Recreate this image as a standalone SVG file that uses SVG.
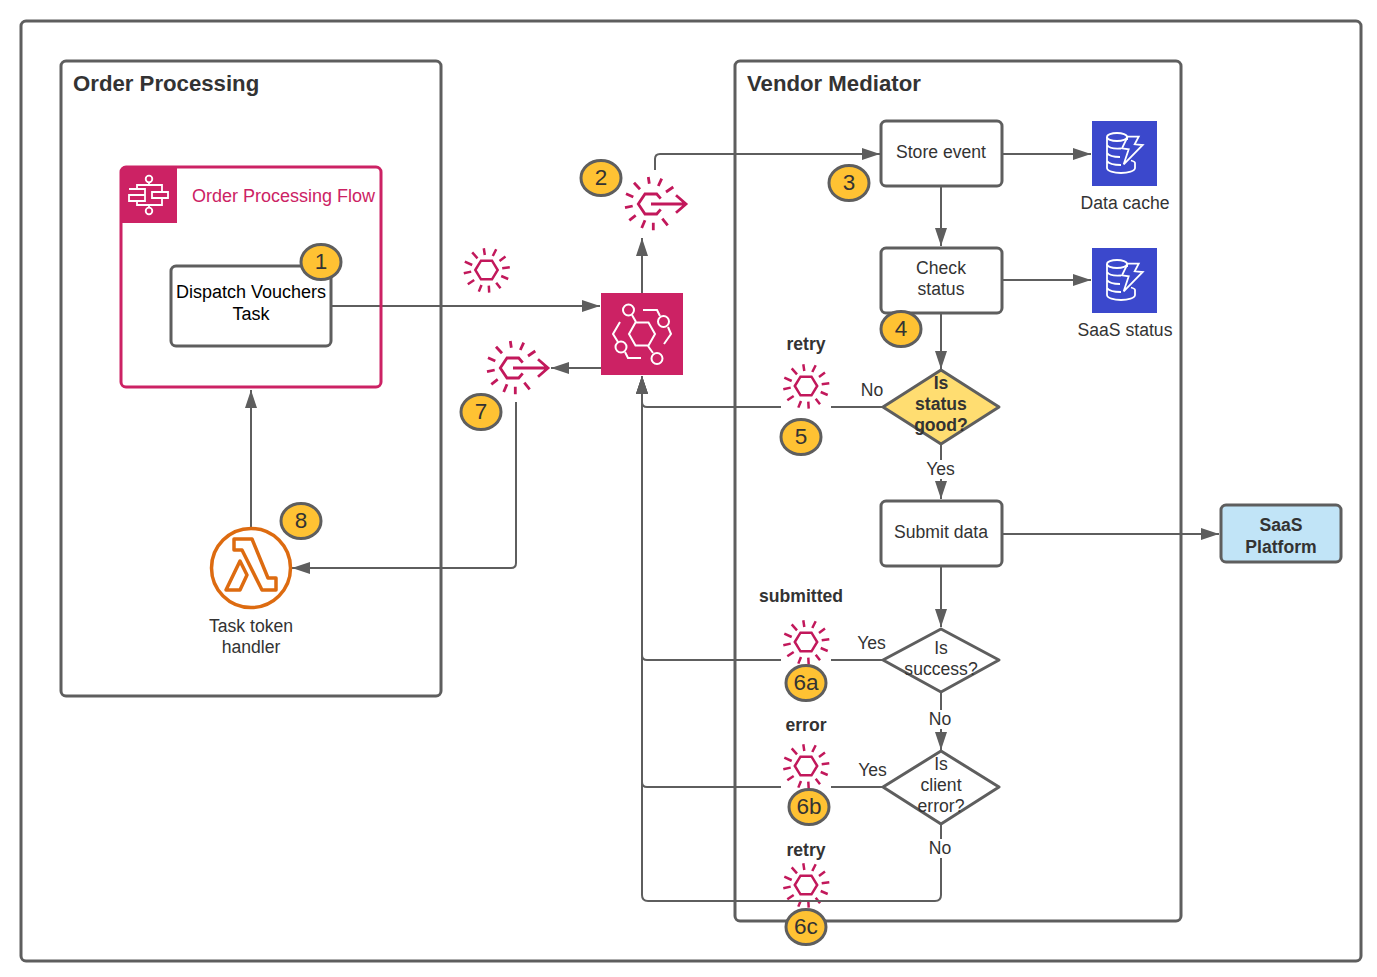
<svg xmlns="http://www.w3.org/2000/svg" width="1377" height="977" viewBox="0 0 1377 977">
<style>
text{font-family:"Liberation Sans",Arial,sans-serif;fill:#333;text-anchor:middle}
.box{fill:none;stroke:#5e5e5e;stroke-width:3}
.node{fill:#fff;stroke:#5e5e5e;stroke-width:3}
.title{font-size:22.2px;font-weight:bold;text-anchor:start}
.lbl{font-size:17.6px}
.b{font-weight:bold}
.num{font-size:22.5px}
.badge{fill:#ffc233;stroke:#5e5e5e;stroke-width:3}
.conn{fill:none;stroke:#5e5e5e;stroke-width:2}
.ev{fill:none;stroke:#c2185b;stroke-width:2.5}
.ic{fill:none;stroke:#fff;stroke-width:1.8}
</style>
<defs>
<marker id="a" markerUnits="userSpaceOnUse" markerWidth="18" markerHeight="12" refX="18" refY="6" orient="auto" viewBox="0 0 18 12"><path d="M0 0L18 6L0 12z" fill="#5e5e5e"/></marker>
<g id="rays"><path d="M-2.700-21.700L-1.700-15M9.700-20.700L6.300-14M19-13.400L13-9M-14.300-17.700L-9-11.700M-21.700-8.400L-14.300-5M-22.700 3.300L-15.300 1.600M-18.700 14.300L-12.300 10M-7.700 21.600L-5 15M2.700 22.600L2.300 15.600M14 18.300L9.700 12.700M21.700 9L14.700 6M23.300-2.700L15.700-1.700" class="ev"/></g>
<g id="event"><rect x="-25" y="-25" width="50" height="50" fill="#fff"/><use href="#rays"/><path d="M-11.200 0L-5.500-9.300H5.500L11.200 0L5.500 9.300H-5.500z" class="ev"/></g>
<g id="evout"><path d="M-1.700-27L-.7-20.300M11.700-25.300L8.300-18M23.300-17L16-12M-16-21.300L-10-14.700M-24-10.300L-16.700-7M-25 3.700L-17.300 2M-20.700 16.300L-14.300 11.300M-8.300 24L-5 16.300M3.300 26.300V18.700M17.700 21.300L12.300 14.700" class="ev" style="stroke-width:2.800"/><path d="M10.700-5.300L6.700-10H-5L-11.700 0L-5 10H6.700L10.700 5.300" class="ev" style="stroke-width:2.800"/><path d="M1 0H36M26-8.700L36 0L26 8.700" class="ev" style="stroke-width:2.800"/></g>
<g id="ddb"><rect width="65" height="65" fill="#3b48cc"/><g class="ic"><ellipse cx="25" cy="16" rx="10" ry="4"/><path d="M15 16V47C15 50 22 52 29 52C36 52 43 50 43 47V42C43 41 41 40 39 39.500M15 24C17 27 23 28 29 27.500M15 32C17 35 23 36 28 36M15 40C17 43 24 44 29 44M35 16V19"/><path d="M35.700 15.700H46.700L42.700 23.300L50.700 24L31.700 43.300L36.700 28.300L30 27.300z"/></g></g>
</defs>

<rect id="outer" class="box" x="21" y="21" width="1340" height="940" rx="5"/>
<g id="order-processing"><rect class="box" x="61" y="61" width="380" height="635" rx="5"/><text class="title" x="73" y="91">Order Processing</text></g>
<g id="vendor-mediator"><rect class="box" x="735" y="61" width="446" height="860" rx="5"/><text class="title" x="747" y="91">Vendor Mediator</text></g>

<g id="connectors">
<path class="conn" marker-end="url(#a)" d="M331 306H600"/>
<path class="conn" marker-end="url(#a)" d="M642 293V238"/>
<path class="conn" marker-end="url(#a)" d="M655 170V159Q655 154 660 154H880"/>
<path class="conn" marker-end="url(#a)" d="M1002 154H1091"/>
<path class="conn" marker-end="url(#a)" d="M941 186V246"/>
<path class="conn" marker-end="url(#a)" d="M1002 280H1091"/>
<path class="conn" marker-end="url(#a)" d="M941 313V369"/>
<path class="conn" marker-end="url(#a)" d="M883 407H647Q642 407 642 402V376"/>
<path class="conn" marker-end="url(#a)" d="M941 444V499"/>
<path class="conn" marker-end="url(#a)" d="M1002 534H1219"/>
<path class="conn" marker-end="url(#a)" d="M941 566V627"/>
<path class="conn" marker-end="url(#a)" d="M883 660H647Q642 660 642 655V376"/>
<path class="conn" marker-end="url(#a)" d="M941 692V750"/>
<path class="conn" marker-end="url(#a)" d="M883 787H647Q642 787 642 782V376"/>
<path class="conn" marker-end="url(#a)" d="M941 824V895Q941 901 935 901H648Q642 901 642 895V376"/>
<path class="conn" marker-end="url(#a)" d="M601 368H551"/>
<path class="conn" marker-end="url(#a)" d="M516 402V563Q516 568 511 568H292"/>
<path class="conn" marker-end="url(#a)" d="M251 528V390"/>
</g>

<g id="flow"><rect x="121" y="167" width="260" height="220" rx="5" fill="none" stroke="#cc2264" stroke-width="3"/><path d="M121 223V172Q121 167 126 167H177V223z" fill="#cc2264"/>
<g class="ic"><circle cx="149" cy="179" r="3.300"/><circle cx="149" cy="211" r="3.300"/><path d="M149 182.500V185M149 205V207.500M137 189V185H162V192M137 201V205H162V198M129 189H145V195H129V201H145V195M152 192H168V198H152z"/></g>
<text x="283.500" y="201.500" font-size="18" style="fill:#cc2264">Order Processing Flow</text></g>
<g id="task1"><rect class="node" x="171" y="266" width="160" height="80" rx="5"/><text x="251" y="298" font-size="18" style="fill:#000">Dispatch Vouchers</text><text x="251" y="320" font-size="18" style="fill:#000">Task</text></g>

<g id="lambda"><circle cx="251" cy="568" r="39.500" fill="#fff" stroke="#dd6b10" stroke-width="3.500"/><g fill="none" stroke="#dd6b10" stroke-width="3.500" stroke-linejoin="round"><path d="M234 539H252L268 578H276V590H262L242 550H234z"/><path d="M240 561L247 575L240 590H226z"/></g><text class="lbl" x="251" y="632">Task token</text><text class="lbl" x="251" y="653">handler</text></g>

<g id="eventbridge"><rect x="601" y="293" width="82" height="82" fill="#cc2264"/><g class="ic" style="stroke-width:2"><path d="M629 334L635.500 322.500H648.500L655 334L648.500 345.500H635.500z"/><circle cx="628.500" cy="310" r="5.500"/><circle cx="663.500" cy="321.500" r="5.500"/><circle cx="621" cy="347" r="5.500"/><circle cx="657" cy="358.500" r="5.500"/><path d="M632 315L636 322M648 346L653 353M643 310H657L660 316M668 327L671 334L664 344M620 322L613 334L618 342M625 352L628 358H641"/></g></g>

<use id="event-top" href="#event" x="486.500" y="270"/>
<use id="ev-out-2" href="#evout" x="650" y="204"/>
<use id="ev-out-7" href="#evout" x="512" y="368"/>

<g id="store-event"><rect class="node" x="881" y="121" width="121" height="65" rx="5"/><text class="lbl" x="941" y="158">Store event</text></g>
<g id="data-cache"><use href="#ddb" x="1092" y="121"/><text class="lbl" x="1125" y="209">Data cache</text></g>
<g id="check-status"><rect class="node" x="881" y="248" width="121" height="65" rx="5"/><text class="lbl" x="941" y="274">Check</text><text class="lbl" x="941" y="295">status</text></g>
<g id="saas-status"><use href="#ddb" x="1092" y="248"/><text class="lbl" x="1125" y="336">SaaS status</text></g>

<g id="d1"><path d="M883 407L941 370L999 407L941 444z" fill="#ffdd71" stroke="#5e5e5e" stroke-width="3" stroke-linejoin="round"/><text class="lbl b" x="941" y="389">Is</text><text class="lbl b" x="941" y="410">status</text><text class="lbl b" x="941" y="431">good?</text></g>
<g id="submit"><rect class="node" x="881" y="501" width="121" height="65" rx="5"/><text class="lbl" x="941" y="538">Submit data</text></g>
<g id="saas-platform"><rect x="1221" y="505" width="120" height="57" rx="5" fill="#c1e4f7" stroke="#5e5e5e" stroke-width="3"/><text class="lbl b" x="1281" y="531">SaaS</text><text class="lbl b" x="1281" y="553">Platform</text></g>
<g id="d2"><path d="M883 660L941 629L999 660L941 692z" fill="#fff" stroke="#5e5e5e" stroke-width="3" stroke-linejoin="round"/><text class="lbl" x="941" y="654">Is</text><text class="lbl" x="941" y="675">success?</text></g>
<g id="d3"><path d="M883 787L941 751L999 787L941 824z" fill="#fff" stroke="#5e5e5e" stroke-width="3" stroke-linejoin="round"/><text class="lbl" x="941" y="770">Is</text><text class="lbl" x="941" y="791">client</text><text class="lbl" x="941" y="812">error?</text></g>

<use id="ev5" href="#event" x="806" y="386"/>
<use id="ev6a" href="#event" x="806" y="642"/>
<use id="ev6b" href="#event" x="806" y="766"/>
<g id="ev6c"><use href="#rays" x="806" y="885"/><path d="M794.800 885L800.500 875.700H811.500L817.200 885L811.500 894.300H800.500z" class="ev"/></g>
<path class="conn" d="M760 901H850"/>

<g id="labels">
<text class="lbl b" x="806" y="350">retry</text>
<text class="lbl" x="872" y="396">No</text>
<rect x="925" y="460" width="32" height="19" fill="#fff"/><text class="lbl" x="940.500" y="475">Yes</text>
<text class="lbl b" x="801" y="602">submitted</text>
<text class="lbl" x="871.500" y="649">Yes</text>
<rect x="925" y="710" width="32" height="19" fill="#fff"/><text class="lbl" x="940" y="725">No</text>
<text class="lbl b" x="806" y="731">error</text>
<text class="lbl" x="872.500" y="776">Yes</text>
<rect x="925" y="839" width="32" height="19" fill="#fff"/><text class="lbl" x="940" y="854">No</text>
<text class="lbl b" x="806" y="856">retry</text>
</g>

<g id="badges">
<g id="b1"><ellipse class="badge" cx="321" cy="262" rx="20" ry="17.500"/><text class="num" x="321" y="269">1</text></g>
<g id="b2"><ellipse class="badge" cx="601" cy="178" rx="20" ry="17.500"/><text class="num" x="601" y="185">2</text></g>
<g id="b3"><ellipse class="badge" cx="849" cy="183" rx="20" ry="17.500"/><text class="num" x="849" y="190">3</text></g>
<g id="b4"><ellipse class="badge" cx="901" cy="329" rx="20" ry="17.500"/><text class="num" x="901" y="336">4</text></g>
<g id="b5"><ellipse class="badge" cx="801" cy="437" rx="20" ry="17.500"/><text class="num" x="801" y="444">5</text></g>
<g id="b6a"><ellipse class="badge" cx="806" cy="683" rx="20" ry="17.500"/><text class="num" x="806" y="690">6a</text></g>
<g id="b6b"><ellipse class="badge" cx="809" cy="807" rx="20" ry="17.500"/><text class="num" x="809" y="814">6b</text></g>
<g id="b6c"><ellipse class="badge" cx="806" cy="927" rx="20" ry="17.500"/><text class="num" x="806" y="934">6c</text></g>
<g id="b7"><ellipse class="badge" cx="481" cy="412" rx="20" ry="17.500"/><text class="num" x="481" y="419">7</text></g>
<g id="b8"><ellipse class="badge" cx="301" cy="521" rx="20" ry="17.500"/><text class="num" x="301" y="528">8</text></g>
</g>
</svg>
